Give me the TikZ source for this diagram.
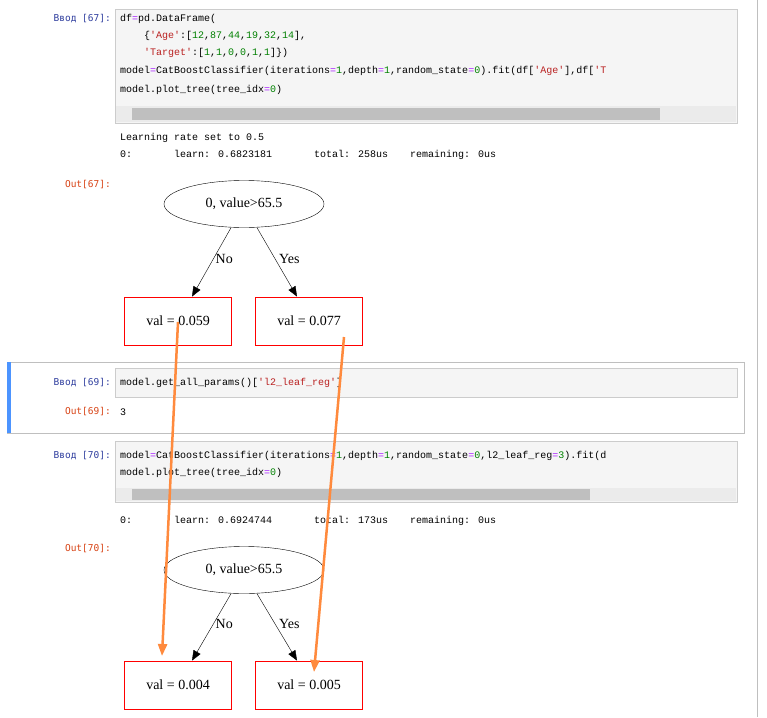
\documentclass[tikz,border=0pt]{standalone}
\usepackage{fontspec}
\setmainfont{Liberation Serif}
\newfontfamily\mono{Liberation Mono}
\newfontfamily\pfont{DejaVu Sans Mono}
\usetikzlibrary{arrows.meta,shapes.geometric}
\definecolor{strc}{HTML}{BA2121}
\definecolor{numc}{HTML}{008000}
\definecolor{opc}{HTML}{AA22FF}
\definecolor{inc}{HTML}{303F9F}
\definecolor{outc}{HTML}{D84315}
\definecolor{orng}{HTML}{FF8A3D}
\newcommand\qS[1]{\textcolor{strc}{#1}}
\newcommand\qN[1]{\textcolor{numc}{#1}}
\newcommand\qE{\textcolor{opc}{=}}
\begin{document}
\begin{tikzpicture}[x=1pt,y=-1pt,
  code/.style={anchor=west,font=\mono\fontsize{10}{12}\selectfont,inner sep=0pt},
  pin/.style={anchor=east,font=\pfont\fontsize{9.5}{12}\selectfont,text=inc,inner sep=0pt},
  pout/.style={anchor=east,font=\pfont\fontsize{9.5}{12}\selectfont,text=outc,inner sep=0pt},
  cell/.style={draw=black!20,fill=black!4},
  split/.style={draw,ellipse,minimum width=160,minimum height=47,inner sep=0pt,font=\fontsize{14}{16}\selectfont},
  leaf/.style={draw=red,thick,minimum width=107,minimum height=48,inner sep=0pt,font=\fontsize{14}{16}\selectfont},
  conn/.style={-{Triangle[length=10pt,width=8pt]}},
  elab/.style={font=\fontsize{14}{16}\selectfont,inner sep=0pt},
  hilite/.style={orng,line width=2.5pt,-{Triangle[length=12pt,width=9pt]}}]
\useasboundingbox (0,0) rectangle (767,717);
\fill[white] (0,0) rectangle (767,717);
\draw[black!25] (757,0) -- (757,717);
% cell 67
\path[cell] (115,9) rectangle (737,123);
\fill[black!8] (116,106) rectangle (736,122);
\fill[black!25] (132,108) rectangle (660,120);
\node[pin] (p67) at (111,19) {Ввод [67]:};
\node[code] (c1) at (120,19) {df\qE pd.DataFrame(};
\node[code] (c2) at (120,36) {\hspace{24pt}\{\qS{'Age'}:[\qN{12},\qN{87},\qN{44},\qN{19},\qN{32},\qN{14}],};
\node[code] (c3) at (120,53) {\hspace{24pt}\qS{'Target'}:[\qN{1},\qN{1},\qN{0},\qN{0},\qN{1},\qN{1}]\})};
\node[code] (c4) at (120,71) {model\qE CatBoostClassifier(iterations\qE\qN{1},depth\qE\qN{1},random\_state\qE\qN{0}).fit(df[\qS{'Age'}],df[\qS{'T}};
\node[code] (c5) at (120,90) {model.plot\_tree(tree\_idx\qE\qN{0})};
\node[code] (o1) at (120,138) {Learning rate set to 0.5};
\node[code] (o2) at (120,155) {0:\hspace{42pt}learn: 0.6823181\hspace{42pt}total: 258us\hspace{22pt}remaining: 0us};
\node[pout] (q67) at (111,185) {Out[67]:};
\node[split] (r1) at (244,204) {0, value>65.5};
\node[leaf] (l1) at (178,321) {val = 0.059};
\node[leaf] (r1l) at (309,321) {val = 0.077};
\draw[conn] (r1.south -| 231,0) -- node[elab,right=2pt,pos=0.45] {No} (l1.north -| 192,0);
\draw[conn] (r1.south -| 257,0) -- node[elab,right=4pt,pos=0.45] {Yes} (r1l.north -| 297,0);
% cell 69
\draw[black!25] (7,362) rectangle (744,433);
\fill[blue!60!cyan!70] (7,362) rectangle (11,433);
\path[cell] (115,368) rectangle (737,397);
\node[pin] (p69) at (111,383) {Ввод [69]:};
\node[code] (c6) at (120,383) {model.get\_all\_params()[\qS{'l2\_leaf\_reg'}]};
\node[pout] (q69) at (111,412) {Out[69]:};
\node[code] (o3) at (120,412) {3};
% cell 70
\path[cell] (115,441) rectangle (737,502);
\fill[black!8] (116,488) rectangle (736,501);
\fill[black!25] (132,489) rectangle (590,500);
\node[pin] (p70) at (111,456) {Ввод [70]:};
\node[code] (c7) at (120,456) {model\qE CatBoostClassifier(iterations\qE\qN{1},depth\qE\qN{1},random\_state\qE\qN{0},l2\_leaf\_reg\qE\qN{3}).fit(d};
\node[code] (c8) at (120,473) {model.plot\_tree(tree\_idx\qE\qN{0})};
\node[code] (o4) at (120,521) {0:\hspace{42pt}learn: 0.6924744\hspace{42pt}total: 173us\hspace{22pt}remaining: 0us};
\node[pout] (q70) at (111,549) {Out[70]:};
\node[split] (r2) at (244,570) {0, value>65.5};
\node[leaf] (l2) at (178,685) {val = 0.004};
\node[leaf] (r2l) at (309,685) {val = 0.005};
\draw[conn] (r2.south -| 231,0) -- node[elab,right=2pt,pos=0.45] {No} (l2.north -| 192,0);
\draw[conn] (r2.south -| 257,0) -- node[elab,right=4pt,pos=0.45] {Yes} (r2l.north -| 297,0);
% orange markers
\coordinate (a1) at (178,322);
\coordinate (b1) at (162,656);
\coordinate (a2) at (344,337);
\coordinate (b2) at (314,672);
\draw[hilite] (a1) -- (b1);
\draw[hilite] (a2) -- (b2);
\end{tikzpicture}
\end{document}
